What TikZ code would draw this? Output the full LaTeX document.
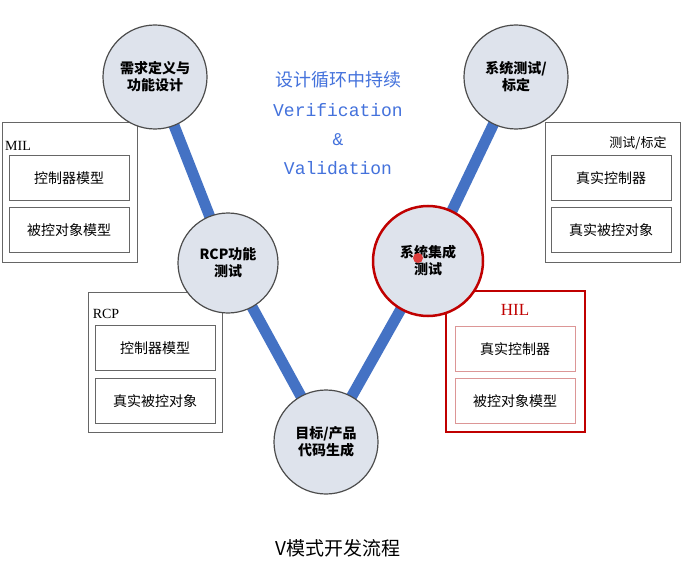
\documentclass[tikz,border=0pt]{standalone}
\usepackage{fontspec}
\setmainfont{Liberation Serif}
\newfontfamily\cjk{Noto Sans CJK SC}
\newfontfamily\monof{Liberation Mono}
\definecolor{cfill}{RGB}{222,227,236}
\definecolor{vblue}{RGB}{68,114,196}
\definecolor{tblue}{RGB}{68,114,220}
\definecolor{dred}{RGB}{192,0,0}
\definecolor{pred}{RGB}{220,150,150}
\definecolor{dotred}{RGB}{220,60,60}
\begin{document}
\begin{tikzpicture}[x=1pt,y=-1pt,
  circ/.style={circle,draw=black!70,line width=1.2pt,fill=cfill,minimum size=104pt,inner sep=0pt,align=center,font=\cjk\bfseries\fontsize{14}{17}\selectfont},
  vline/.style={line width=11pt,draw=vblue},
  outer/.style={draw=black!60,line width=0.6pt},
  inner/.style={draw=black!60,line width=0.6pt,minimum width=120pt,minimum height=45pt,font=\cjk\fontsize{14}{17}\selectfont},
  blu/.style={text=tblue}]
\useasboundingbox[fill=white] (0,0) rectangle (687,588);
% MIL
\draw[outer] (2,122) rectangle (137,262);
\node[font=\fontsize{14}{16}\selectfont] (mil) at (18,146) {MIL};
\node[inner] (m1) at (69,178) {控制器模型};
\node[inner] (m2) at (69,230) {被控对象模型};
% RCP
\draw[outer] (88,292) rectangle (222,432);
\node[font=\fontsize{14}{16}\selectfont] (rcpl) at (106,314) {RCP};
\node[inner] (r1) at (155,348) {控制器模型};
\node[inner] (r2) at (155,401) {真实被控对象};
% test
\draw[outer] (545,122) rectangle (680,262);
\node[font=\cjk\fontsize{13}{16}\selectfont] (tl) at (638,143) {测试/标定};
\node[inner] (t1) at (611,178) {真实控制器};
\node[inner] (t2) at (611,230) {真实被控对象};
% HIL
\draw[draw=dred,line width=2pt] (446,291) rectangle (585,432);
\node[text=dred,font=\fontsize{17}{19}\selectfont] (hl) at (515,310) {HIL};
\node[inner,draw=pred] (h1) at (515,349) {真实控制器};
\node[inner,draw=pred] (h2) at (515,401) {被控对象模型};
% connectors
\coordinate (p1) at (155,77);
\coordinate (p2) at (228,263);
\coordinate (p3) at (326,442);
\coordinate (p4) at (428,261);
\coordinate (p5) at (516,77);
\draw[vline] (p1) -- (p2) -- (p3) -- (p4) -- (p5);
% circles
\node[circ] (c1) at (p1) {需求定义与\\功能设计};
\node[circ,minimum size=100pt] (c2) at (p2) {RCP功能\\测试};
\node[circ] (c3) at (p3) {目标/产品\\代码生成};
\node[circ] (c5) at (p5) {系统测试/\\标定};
\node[circ,minimum size=110pt,draw=dred,line width=2.5pt] (c4) at (p4) {系统集成\\测试};
\fill[dotred] (418,258) circle (5pt);
% middle text
\node[blu,font=\cjk\fontsize{18}{20}\selectfont] (t1m) at (338,80) {设计循环中持续};
\node[blu,font=\monof\fontsize{18}{20}\selectfont] (t2m) at (338,110) {Verification};
\node[blu,font=\monof\fontsize{18}{20}\selectfont] (t3m) at (338,140) {\&};
\node[blu,font=\monof\fontsize{18}{20}\selectfont] (t4m) at (338,168) {Validation};
\node[font=\cjk\fontsize{19}{22}\selectfont] (title) at (338,548) {V模式开发流程};
\end{tikzpicture}
\end{document}
